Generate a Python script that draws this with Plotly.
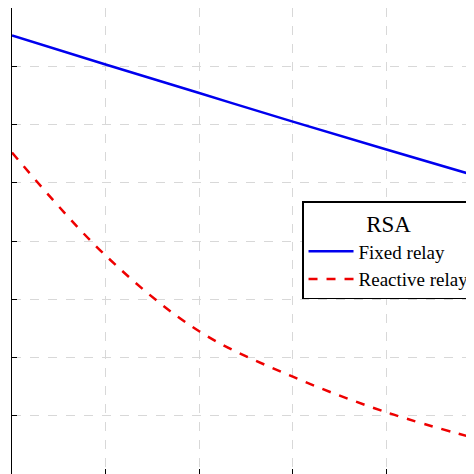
import plotly.graph_objects as go

x = [0, 1, 2, 3, 4, 5]
fixed_relay = [7.53, 7.03, 6.54, 6.05, 5.57, 5.10]
reactive_relay = [5.52, 3.75, 2.45, 1.67, 1.06, 0.59]

fig = go.Figure()
fig.add_trace(go.Scatter(x=x, y=fixed_relay, mode="lines", name="Fixed relay",
                         line=dict(color="#0000ee", width=2.5, shape="spline")))
fig.add_trace(go.Scatter(x=x, y=reactive_relay, mode="lines", name="Reactive relay",
                         line=dict(color="#ee0000", width=2.5, dash="dash", shape="spline")))

axis = dict(showticklabels=False, showgrid=True, gridcolor="#d8d8d8", griddash="dash",
            zeroline=False, showline=True, linecolor="black", linewidth=1, mirror=True,
            ticks="inside", ticklen=5, tickcolor="black")
fig.update_xaxes(range=[0, 5], dtick=1, **axis)
fig.update_yaxes(range=[0, 8], dtick=1, **axis)

fig.update_layout(
    width=474, height=474,
    margin=dict(l=4, r=2, t=0, b=8),
    plot_bgcolor="white", paper_bgcolor="white",
    font=dict(family="Liberation Serif", size=19, color="black"),
    legend=dict(title=dict(text="RSA", side="top center"), x=0.99, y=0.585,
                xanchor="right", yanchor="top", bordercolor="black", borderwidth=1.2,
                bgcolor="white", itemwidth=45),
)
fig.write_html("out.html")
